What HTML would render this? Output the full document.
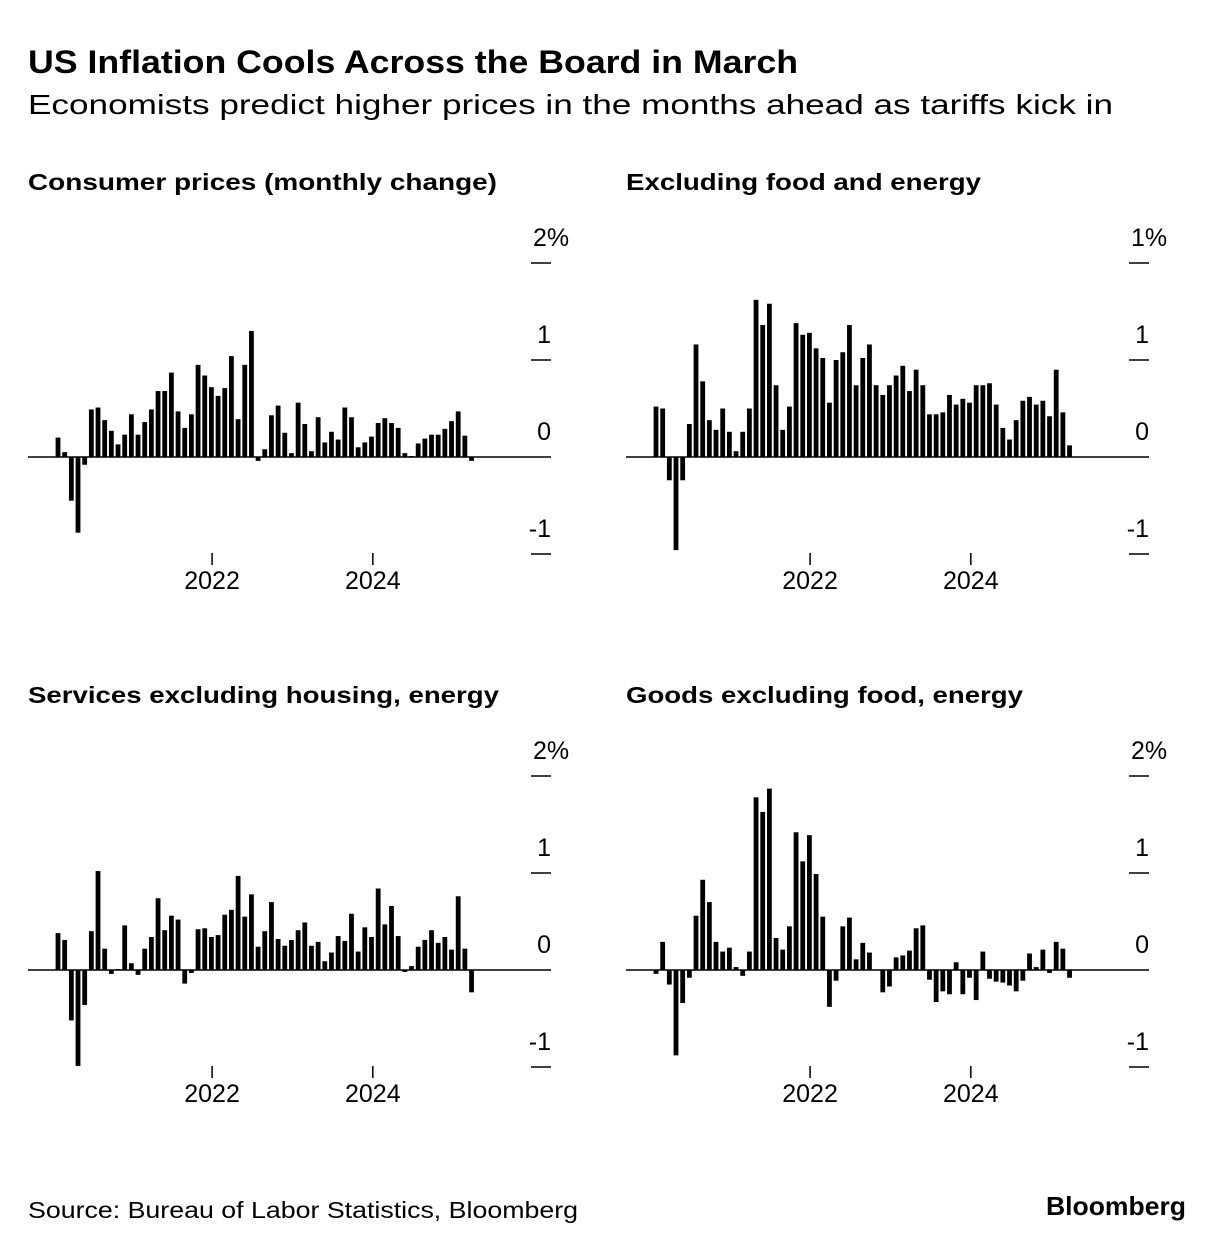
<!DOCTYPE html>
<html><head><meta charset="utf-8"><style>
html,body{margin:0;padding:0;background:#fff;}
svg{display:block;font-family:"Liberation Sans",Arial,sans-serif;}
</style></head><body>
<svg id="chart" width="1224" height="1250" viewBox="0 0 1224 1250" xmlns="http://www.w3.org/2000/svg">
<text x="28" y="73" font-size="32" font-weight="bold" textLength="770" lengthAdjust="spacingAndGlyphs">US Inflation Cools Across the Board in March</text>
<text x="28" y="114" font-size="28" textLength="1085" lengthAdjust="spacingAndGlyphs">Economists predict higher prices in the months ahead as tariffs kick in</text>
<text x="28" y="1218" font-size="23" textLength="550" lengthAdjust="spacingAndGlyphs">Source: Bureau of Labor Statistics, Bloomberg</text>
<text x="1186" y="1215" font-size="26" font-weight="bold" text-anchor="end" textLength="140" lengthAdjust="spacingAndGlyphs">Bloomberg</text>
<g id="panels"></g>
</svg>
<script>
const headline = [0.20,0.05,-0.45,-0.78,-0.08,0.49,0.51,0.38,0.27,0.13,0.23,0.44,0.23,0.36,0.49,0.68,0.68,0.87,0.47,0.30,0.44,0.95,0.84,0.72,0.63,0.71,1.04,0.39,0.95,1.30,-0.04,0.08,0.43,0.53,0.25,0.04,0.56,0.34,0.06,0.41,0.15,0.26,0.18,0.51,0.41,0.10,0.15,0.21,0.35,0.40,0.35,0.30,0.04,0.01,0.14,0.19,0.23,0.23,0.29,0.37,0.47,0.22,-0.04];
const core = [0.26,0.25,-0.12,-0.48,-0.12,0.17,0.58,0.39,0.19,0.14,0.25,0.13,0.03,0.13,0.25,0.81,0.68,0.79,0.37,0.14,0.26,0.69,0.63,0.64,0.56,0.51,0.28,0.50,0.54,0.68,0.37,0.51,0.58,0.37,0.32,0.37,0.42,0.47,0.34,0.45,0.37,0.22,0.22,0.23,0.32,0.27,0.30,0.28,0.37,0.37,0.38,0.27,0.15,0.09,0.19,0.29,0.31,0.27,0.29,0.21,0.45,0.23,0.06];
const services = [0.38,0.31,-0.52,-0.99,-0.36,0.40,1.02,0.22,-0.04,0.01,0.46,0.07,-0.05,0.22,0.34,0.74,0.41,0.56,0.52,-0.14,-0.03,0.42,0.43,0.34,0.36,0.57,0.62,0.97,0.55,0.78,0.24,0.40,0.70,0.32,0.25,0.31,0.41,0.49,0.25,0.29,0.09,0.18,0.35,0.30,0.58,0.19,0.44,0.34,0.84,0.47,0.66,0.35,-0.02,0.04,0.24,0.31,0.41,0.28,0.34,0.21,0.76,0.22,-0.23];
const goods = [-0.04,0.29,-0.15,-0.88,-0.34,-0.08,0.56,0.93,0.70,0.29,0.19,0.23,0.03,-0.06,0.19,1.78,1.63,1.87,0.33,0.21,0.45,1.42,1.12,1.39,0.99,0.55,-0.38,-0.11,0.45,0.54,0.11,0.28,0.18,0.0,-0.23,-0.17,0.13,0.15,0.20,0.43,0.46,-0.10,-0.33,-0.22,-0.25,0.08,-0.25,-0.08,-0.31,0.19,-0.09,-0.12,-0.13,-0.16,-0.22,-0.11,0.17,0.03,0.21,-0.03,0.29,0.22,-0.08];
const yearLabels = ["2022","2024"];
const yearTickIdx = [23.1, 47.2];
const ticksStd = [-1,0,1,2];
const labelsStd = ["-1","0","1","2%"];
const ticksCore = [-0.5,0,0.5,1];
const labelsCore = ["-1","0","1","1%"];
const titles = ["Consumer prices (monthly change)","Excluding food and energy","Services excluding housing, energy","Goods excluding food, energy"];

const NS="http://www.w3.org/2000/svg";
const root=document.getElementById('panels');
function mk(tag,attrs,parent){const e=document.createElementNS(NS,tag);for(const k in attrs)e.setAttribute(k,attrs[k]);parent.appendChild(e);return e;}

const panels=[
 {data:headline,ox:0,zeroY:457,unitPx:97,ticks:ticksStd,labels:labelsStd,title:titles[0],titleW:469,titleY:190,slug:'consumer-prices'},
 {data:core,ox:598,zeroY:457,unitPx:194,ticks:ticksCore,labels:labelsCore,title:titles[1],titleW:355,titleY:190,slug:'core-prices'},
 {data:services,ox:0,zeroY:970,unitPx:97,ticks:ticksStd,labels:labelsStd,title:titles[2],titleW:471,titleY:703,slug:'services-ex-housing'},
 {data:goods,ox:598,zeroY:970,unitPx:97,ticks:ticksStd,labels:labelsStd,title:titles[3],titleW:397,titleY:703,slug:'goods-ex-food-energy'}
];

panels.forEach(p=>{
  const g=mk('g',{},root);
  
  
  const xS=i=>p.ox+58+i*6.67;
  const yS=v=>p.zeroY-v*p.unitPx;
  const t=mk('text',{x:p.ox+28,y:p.titleY,'font-size':23,'font-weight':'bold',textLength:p.titleW,lengthAdjust:'spacingAndGlyphs'},g);
  t.textContent=p.title;
  
  
  // y ticks
  p.ticks.forEach((v,k)=>{
    const y=yS(v);
    if(v!==0){
      const l=mk('line',{x1:p.ox+531,x2:p.ox+551,y1:y,y2:y,stroke:'#000','stroke-width':1.5},g);
      
      
    }
    const lab=p.labels[k];
    const pct=lab.indexOf('%')>=0;
    const tx=mk('text',{x:pct?p.ox+533:p.ox+551,y:y-17,'font-size':25,'text-anchor':pct?'start':'end'},g);
    tx.textContent=lab;
    
    
  });
  // bars
  p.data.forEach((v,i)=>{
    const y0=yS(0),y1=yS(v);
    const r=mk('rect',{x:xS(i)-2.4,width:4.8,y:Math.min(y0,y1),height:Math.max(Math.abs(y1-y0),0.6),fill:'#000'},g);
    
    
  });
  const z=mk('line',{x1:p.ox+28,x2:p.ox+551,y1:yS(0),y2:yS(0),stroke:'#000','stroke-width':1.5},g);
  
  
  // x ticks
  yearTickIdx.forEach((ti,k)=>{
    const x=xS(ti);
    const base=p.zeroY+96;
    const l=mk('line',{x1:x,x2:x,y1:base,y2:base+12,stroke:'#000','stroke-width':1.5},g);
    
    
    const tx=mk('text',{x:x,y:base+36,'font-size':25,'text-anchor':'middle'},g);
    tx.textContent=yearLabels[k];
    
    
  });
});
</script>
</body></html>
